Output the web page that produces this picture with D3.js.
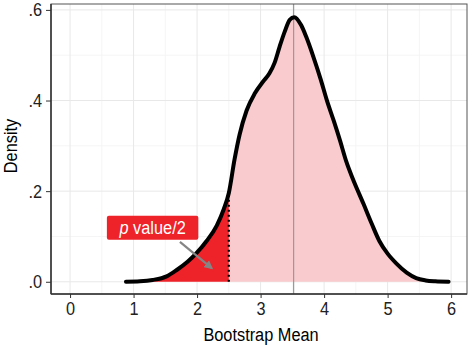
<!DOCTYPE html>
<html><head><meta charset="utf-8">
<script src="https://cdn.jsdelivr.net/npm/d3@7"></script>
<style>
html,body{margin:0;padding:0;background:#fff;}
text{font-family:"Liberation Sans","Arial",sans-serif;}
</style></head>
<body><svg id="c" width="474" height="347"></svg>
<script>
// density curve of bootstrap means
const bootX = [0.88,1.10,1.30,1.52,1.68,1.85,1.99,2.15,2.31,2.42,2.50,2.59,2.67,2.78,2.91,3.04,3.14,3.22,3.30,3.38,3.46,3.53,3.64,3.72,3.83,3.95,4.04,4.15,4.25,4.35,4.45,4.62,4.75,4.87,5.00,5.14,5.30,5.45,5.60,5.75,5.96];
const density = [0.000,0.001,0.004,0.012,0.026,0.044,0.063,0.090,0.124,0.160,0.196,0.270,0.325,0.378,0.416,0.442,0.460,0.483,0.519,0.552,0.578,0.584,0.566,0.540,0.497,0.445,0.402,0.356,0.312,0.265,0.228,0.172,0.128,0.090,0.062,0.040,0.020,0.008,0.003,0.001,0.000];
const cutoff = 2.5;
const meanValue = 3.52;
const xTicks = [0,1,2,3,4,5,6];
const yTicks = [0,0.2,0.4,0.6];
const yTickLabels = [".0",".2",".4",".6"];
const annotationLabel = ["p"," value/2"];
const arrowFrom = [1.73,0.088];
const arrowTo = [2.23,0.030];

const SX = 0.86; // condensed look
const svg = d3.select("#c");
const L=51, R=467, T=4, B=294;
const x = d3.scaleLinear().domain([-0.3,6.25]).range([L,R]);
const y = d3.scaleLinear().domain([-0.027,0.613]).range([B,T]);

const g = svg.append("g");
const xMinor = [-0.5,0.5,1.5,2.5,3.5,4.5,5.5].filter(v=>v>-0.3&&v<6.25);
const yMinor = [0.1,0.3,0.5];
g.selectAll(".xm").data(xMinor).join("line").attr("x1",d=>x(d)).attr("x2",d=>x(d)).attr("y1",T).attr("y2",B).attr("stroke","#f3f3f3").attr("stroke-width",0.8);
g.selectAll(".ym").data(yMinor).join("line").attr("y1",d=>y(d)).attr("y2",d=>y(d)).attr("x1",L).attr("x2",R).attr("stroke","#f3f3f3").attr("stroke-width",0.8);
g.selectAll(".xg").data(xTicks).join("line").attr("x1",d=>x(d)).attr("x2",d=>x(d)).attr("y1",T).attr("y2",B).attr("stroke","#e8e8e8").attr("stroke-width",1);
g.selectAll(".yg").data(yTicks).join("line").attr("y1",d=>y(d)).attr("y2",d=>y(d)).attr("x1",L).attr("x2",R).attr("stroke","#e8e8e8").attr("stroke-width",1);

const pts = bootX.map((v,i)=>[v,density[i]]);
const left = pts.filter(p=>p[0]<=cutoff);
const right = pts.filter(p=>p[0]>=cutoff);
const curve = d3.curveMonotoneX;
const area = d3.area().x(d=>x(d[0])).y0(y(0)).y1(d=>y(d[1])).curve(curve);
g.append("path").datum(right).attr("d",area).attr("fill","#f9cbce");
g.append("path").datum(left).attr("d",area).attr("fill","#ee2229");

g.append("line").attr("x1",x(meanValue)).attr("x2",x(meanValue)).attr("y1",T).attr("y2",B).attr("stroke","#999").attr("stroke-width",1.2);

const cutY = density[bootX.indexOf(cutoff)];
g.append("line").attr("x1",x(cutoff)).attr("x2",x(cutoff)).attr("y1",y(0)).attr("y2",y(cutY)).attr("stroke","#000").attr("stroke-width",2.2).attr("stroke-dasharray","2,3");

const line = d3.line().x(d=>x(d[0])).y(d=>y(d[1])).curve(curve);
g.append("path").datum(pts).attr("d",line).attr("fill","none").attr("stroke","#000").attr("stroke-width",4).attr("stroke-linecap","round");

svg.append("defs").append("marker").attr("id","ah").attr("viewBox","0 0 10 10").attr("refX",8).attr("refY",5).attr("markerWidth",4).attr("markerHeight",4).attr("orient","auto")
  .append("path").attr("d","M0,0L10,5L0,10z").attr("fill","#858585");
g.append("line").attr("x1",x(arrowFrom[0])).attr("y1",y(arrowFrom[1])).attr("x2",x(arrowTo[0])).attr("y2",y(arrowTo[1])).attr("stroke","#858585").attr("stroke-width",2.2).attr("marker-end","url(#ah)");

const bx0 = x(0.58), bx1 = x(2.02), by = y(0.119);
g.append("rect").attr("x",bx0).attr("y",by-12).attr("width",bx1-bx0).attr("height",24).attr("rx",2).attr("fill","#ee2229");
const lt = g.append("text").attr("transform",`translate(${(bx0+bx1)/2},${by+6.5}) scale(${SX},1)`).attr("text-anchor","middle").attr("fill","#fff").attr("font-size",19);
lt.append("tspan").attr("font-style","italic").text(annotationLabel[0]);
lt.append("tspan").text(annotationLabel[1]);

svg.append("rect").attr("x",L).attr("y",T).attr("width",R-L).attr("height",B-T).attr("fill","none").attr("stroke","#555").attr("stroke-width",1);
svg.append("line").attr("x1",L).attr("x2",L).attr("y1",T).attr("y2",B).attr("stroke","#333").attr("stroke-width",1.5);
svg.append("line").attr("x1",L).attr("x2",R).attr("y1",B).attr("y2",B).attr("stroke","#333").attr("stroke-width",1.5);

const xa = svg.append("g").attr("transform",`translate(0,${B})`).call(d3.axisBottom(x).tickValues(xTicks).tickSize(4).tickPadding(4).tickFormat(d3.format("d")));
xa.select(".domain").remove();
xa.selectAll("line").attr("stroke","#333");
xa.selectAll("text").attr("font-size",19).attr("fill","#222").attr("font-family",null).attr("transform",`scale(${SX},1)`);
const ya = svg.append("g").attr("transform",`translate(${L},0)`).call(d3.axisLeft(y).tickValues(yTicks).tickSize(5).tickPadding(4).tickFormat((d,i)=>yTickLabels[i]));
ya.select(".domain").remove();
ya.selectAll("line").attr("stroke","#333");
ya.selectAll("text").attr("font-size",19).attr("fill","#222").attr("font-family",null).attr("x",-9/SX).attr("transform",`scale(${SX},1)`);

svg.append("text").attr("transform",`translate(${(L+R)/2+2},341) scale(${SX},1)`).attr("text-anchor","middle").attr("font-size",19).attr("fill","#000").text("Bootstrap Mean");
svg.append("text").attr("transform",`translate(17,146) rotate(-90) scale(${SX},1)`).attr("text-anchor","middle").attr("font-size",19).attr("fill","#000").text("Density");
</script></body></html>
